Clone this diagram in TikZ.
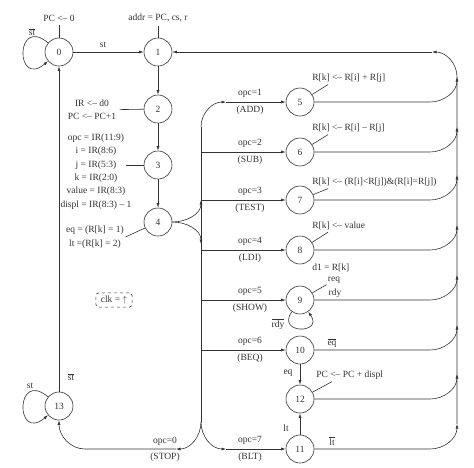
\documentclass[tikz,border=0pt]{standalone}
\usepackage{fontspec}
\setmainfont{Liberation Serif}
\usetikzlibrary{arrows.meta}
\begin{document}
\begin{tikzpicture}[x=1pt,y=-1pt,line width=0.6pt,color=black!80,
    font=\fontsize{9.5}{11}\selectfont,
    >={Latex[length=4.5pt,width=3pt]},
    state/.style={draw,circle,minimum size=28pt,inner sep=0pt},
    note/.style={inner sep=1pt}]
  \useasboundingbox (0,0) rectangle (474,467);
  \path
    (59,52) node[state] (0) {0}
    (158,52) node[state] (1) {1}
    (158,109) node[state] (2) {2}
    (158,165) node[state] (3) {3}
    (158,222) node[state] (4) {4}
    (300,102) node[state] (5) {5}
    (300,152) node[state] (6) {6}
    (300,200) node[state] (7) {7}
    (300,250) node[state] (8) {8}
    (300,300) node[state] (9) {9}
    (300,350) node[state] (10) {10}
    (300,449) node[state] (11) {11}
    (300,399) node[state] (12) {12}
    (59,406) node[state] (13) {13};
  % bends of the two buses
  \coordinate (opx) at (250,0);
  \coordinate (rb) at (430,0);
  \coordinate (bustop) at (457,77);
  \coordinate (busbot) at (457,424);
  \coordinate (back) at (432,52);
  \coordinate (fork) at (201,422);
  \coordinate (spine) at (201,127);
  \coordinate (up4) at (201,200);
  \coordinate (dn4) at (201,244);
  \coordinate (in5) at (226,102);
  \coordinate (stop) at (176,449);
  \coordinate (stopc) at (85,449);
  \coordinate (blt) at (226,449);
  % actions
  \node (a0) at (59,18) {PC <-- 0};
  \node (a1) at (158,18) {addr = PC, cs, r};
  \node[align=center] (a2) at (92,110) {IR <-- d0\\[2pt]PC <-- PC+1};
  \node[align=center,font=\fontsize{9.5}{13.4}\selectfont] (a3) at (96,171.5)
    {opc = IR(11:9)\\i = IR(8:6)\\j = IR(5:3)\\k = IR(2:0)\\value = IR(8:3)\\displ = IR(8:3) -- 1};
  \node[align=center] (a4) at (95,237) {eq = (R[k] = 1)\\[3pt]lt =(R[k] = 2)};
  \node[note,anchor=west] (a5) at (311,78) {R[k] <-- R[i] + R[j]};
  \node[note,anchor=west] (a6) at (311,128) {R[k] <-- R[i] -- R[j]};
  \node[note,anchor=west] (a7) at (311,182) {R[k] <-- (R[i]<R[j])\&(R[i]=R[j])};
  \node[note,anchor=west] (a8) at (311,226) {R[k] <-- value};
  \node[note,anchor=west] (a9) at (311,268) {d1 = R[k]};
  \node[note] (req) at (334,280) {req};
  \node[note,anchor=west] (a12) at (315,375) {PC <-- PC + displ};
  \node[draw,dashed,rounded corners=3pt,inner xsep=5pt,inner ysep=3pt] (clk) at (114,300) {clk = $\uparrow$};
  % conditions
  \node (nst0) at (32,32) {$\overline{\mbox{st}}$};
  \node (st01) at (103,45) {st};
  \node (st13) at (30,386) {st};
  \node (nst13) at (71,377) {$\overline{\mbox{st}}$};
  \node (rdy) at (335,293) {rdy};
  \node (nrdy) at (278,324) {$\overline{\mbox{rdy}}$};
  \node (neq) at (332,343) {$\overline{\mbox{eq}}$};
  \node (nlt) at (332,441) {$\overline{\mbox{lt}}$};
  \node (eq) at (288,373) {eq};
  \node (lt) at (286,428) {lt};
  \foreach \n/\op/\nm in {5/1/ADD,6/2/SUB,7/3/TEST,8/4/LDI,9/5/SHOW,10/6/BEQ,11/7/BLT}
    \path (opx |- \n) node[yshift=9pt] (op\n) {opc=\op} node[yshift=-8pt] (nm\n) {(\nm)};
  \node (op0) at (165,441) {opc=0};
  \node (nm0) at (165,457) {(STOP)};
  % action leads
  \begin{scope}[-]
    \draw (a0) -- (0);
    \draw (a1) -- (1);
    \draw (a2) -- (2);
    \draw ([xshift=-9pt]a3.east |- 3) -- (3);
    \draw ([xshift=-2pt]a4.east) -- (4);
    \foreach \n in {5,6,7,8,12}
      \draw (\n) -- ([xshift=17pt,yshift=-1pt]a\n.south west);
    \draw (9) -- (req.south west);
  \end{scope}
  % transitions
  \draw[->] (0) to[out=140,in=220,looseness=6] (0);
  \draw[->] (13) to[out=140,in=220,looseness=6] (13);
  \draw[->] (9) to[out=235,in=305,looseness=4.3] (9);
  \draw[->] (0) -- (1);
  \draw[->] (1) -- (2);
  \draw[->] (2) -- (3);
  \draw[->] (3) -- (4);
  \draw[->] (13) -- (0);
  \draw[->] (10) -- (12);
  \draw[->] (11) -- (12);
  \foreach \n in {5,...,12}
    \draw[->] (\n) -- (\n -| rb) to[out=0,in=-90] ++(27,-25);
  \draw[->] (busbot) -- (bustop) to[out=90,in=0] (back);
  \draw[->] (back) -- (1);
  \draw (fork) -- (spine);
  \draw[->] (spine) to[out=90,in=180] (in5);
  \draw[->] (in5) -- (5);
  \draw[->] (4) to[out=0,in=-90] (up4);
  \draw[->] (4) to[out=0,in=90] (dn4);
  \foreach \n in {6,...,10}
    \draw[->] (spine |- \n) -- (\n);
  \draw[->] (fork) to[out=-90,in=0] (stop);
  \draw[->] (stop) -- (stopc) to[out=180,in=-90] (13);
  \draw[->] (fork) to[out=-90,in=180] (blt);
  \draw[->] (blt) -- (11);
\end{tikzpicture}
\end{document}
